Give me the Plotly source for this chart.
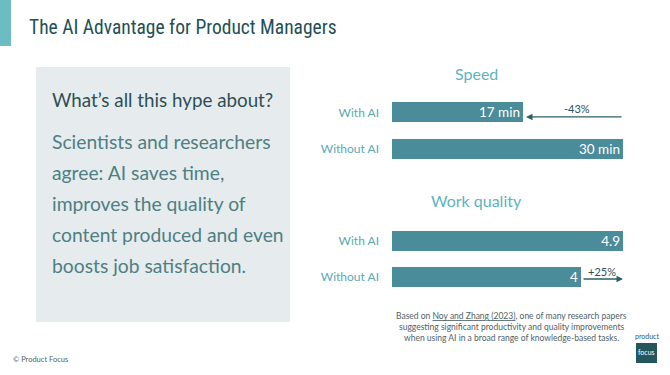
import plotly.graph_objects as go

W, H = 670, 375
FONT = "Lato"
COND = "Roboto Condensed"

# ---- data ----
categories = ["With AI", "Without AI"]
speed_minutes = [17, 30]
speed_labels = ["17 min", "30 min"]
quality_scores = [4.9, 4]
quality_labels = ["4.9", "4"]
change_labels = ["-43%", "+25%"]

BAR = "#4A8C9A"
TEAL = "#5DB3BC"
DARK = "#24535A"

def px(x):
    return x / W

def py(y):
    return 1 - y / H

fig = go.Figure()

fig.add_trace(go.Bar(
    x=speed_minutes, y=categories, orientation="h", width=0.56,
    marker=dict(color=BAR, line=dict(width=0)),
    text=speed_labels, textposition="inside", insidetextanchor="end",
    textangle=0, constraintext="none",
    textfont=dict(family=FONT, size=13.5, color="white"),
    xaxis="x", yaxis="y", hoverinfo="skip", cliponaxis=False))

fig.add_trace(go.Bar(
    x=quality_scores, y=categories, orientation="h", width=0.55,
    marker=dict(color=BAR, line=dict(width=0)),
    text=quality_labels, textposition="inside", insidetextanchor="end",
    textangle=0, constraintext="none",
    textfont=dict(family=FONT, size=13.5, color="white"),
    xaxis="x2", yaxis="y2", hoverinfo="skip", cliponaxis=False))

xcommon = dict(showticklabels=False, showgrid=True, griddash="dot",
               gridcolor="#C9DDE0", gridwidth=1, zeroline=False, showline=False,
               ticks="", fixedrange=True)
ycommon = dict(type="category", categoryorder="array", categoryarray=categories,
               autorange="reversed", showgrid=False, zeroline=False, showline=False,
               ticks="", ticklabelstandoff=12, fixedrange=True,
               tickfont=dict(family=FONT, size=12, color="#5AA9B1"))

fig.update_layout(
    width=W, height=H, margin=dict(l=0, r=0, t=0, b=0),
    paper_bgcolor="white", plot_bgcolor="rgba(0,0,0,0)",
    showlegend=False, bargap=0,
    xaxis=dict(domain=[px(392), px(623)], range=[0, max(speed_minutes)],
               tickvals=[0, max(speed_minutes)], anchor="y", **xcommon),
    yaxis=dict(domain=[py(167.25), py(94.25)], anchor="x", **ycommon),
    xaxis2=dict(domain=[px(392), px(623)], range=[0, max(quality_scores)],
                tickvals=[0, max(quality_scores)], anchor="y2", **xcommon),
    yaxis2=dict(domain=[py(294.5), py(222.5)], anchor="x2", **ycommon),
)

shapes = [
    dict(type="rect", xref="paper", yref="paper", x0=0, x1=px(11), y0=py(46), y1=1,
         fillcolor="#6BBCC3", line=dict(width=0), layer="below"),
    dict(type="rect", xref="paper", yref="paper", x0=px(36), x1=px(290), y0=py(322), y1=py(67),
         fillcolor="#E6ECED", line=dict(width=0), layer="below"),
    dict(type="rect", xref="paper", yref="paper", x0=px(636), x1=px(657), y0=py(363), y1=py(343),
         fillcolor="#24575C", line=dict(width=0)),
]
fig.update_layout(shapes=shapes)

ann = []
ann.append(dict(text="The AI Advantage for Product Managers", x=px(27), y=py(28),
                xref="paper", yref="paper", xanchor="left", yanchor="middle", showarrow=False,
                font=dict(family=COND, size=19.5, color="#234F56")))
ann.append(dict(text="What’s all this hype about?", x=px(50), y=py(99),
                xref="paper", yref="paper", xanchor="left", yanchor="middle", showarrow=False,
                font=dict(family=FONT, size=18.8, color="#2E4F55")))
body = ["Scientists and researchers", "agree: AI saves time,", "improves the quality of",
        "content produced and even", "boosts job satisfaction."]
for i, line in enumerate(body):
    ann.append(dict(text=line, x=px(50), y=py(141 + 31.2 * i),
                    xref="paper", yref="paper", xanchor="left", yanchor="middle", showarrow=False,
                    font=dict(family=FONT, size=19.3, color="#4F7E84")))

ann.append(dict(text="Speed", x=px(476), y=py(73), xref="paper", yref="paper",
                xanchor="center", yanchor="middle", showarrow=False,
                font=dict(family=FONT, size=16, color=TEAL)))
ann.append(dict(text="Work quality", x=px(476), y=py(200), xref="paper", yref="paper",
                xanchor="center", yanchor="middle", showarrow=False,
                font=dict(family=FONT, size=16, color=TEAL)))

# speed change arrow
ann.append(dict(x=speed_minutes[0] + 0.4, y=0.12, xref="x", yref="y",
                ax=speed_minutes[1], ay=0.12, axref="x", ayref="y",
                showarrow=True, arrowhead=2, arrowsize=1, arrowwidth=1.3, arrowcolor="#2E5F66",
                text=""))
ann.append(dict(text=change_labels[0], x=(speed_minutes[0] + speed_minutes[1]) / 2 + 0.5, y=-0.12,
                xref="x", yref="y", showarrow=False, xanchor="center", yanchor="middle",
                font=dict(family=FONT, size=11, color="#2E4F55")))
# quality change arrow
ann.append(dict(x=quality_scores[0], y=1.07, xref="x2", yref="y2",
                ax=quality_scores[1] + 0.03, ay=1.07, axref="x2", ayref="y2",
                showarrow=True, arrowhead=2, arrowsize=1, arrowwidth=1.3, arrowcolor="#2E5F66",
                text=""))
ann.append(dict(text=change_labels[1], x=(quality_scores[0] + quality_scores[1]) / 2, y=0.86,
                xref="x2", yref="y2", showarrow=False, xanchor="center", yanchor="middle",
                font=dict(family=FONT, size=11, color="#2E4F55")))

foot = ["Based on <u>Noy and Zhang (2023)</u>, one of many research papers",
        "suggesting significant productivity and quality improvements",
        "when using AI in a broad range of knowledge-based tasks."]
for i, line in enumerate(foot):
    ann.append(dict(text=line, x=px(511), y=py(316 + 11 * i), xref="paper", yref="paper",
                    xanchor="center", yanchor="middle", showarrow=False,
                    font=dict(family=FONT, size=8.5, color="#4F6268")))

ann.append(dict(text="product", x=px(646.5), y=py(336), xref="paper", yref="paper",
                xanchor="center", yanchor="middle", showarrow=False,
                font=dict(family=FONT, size=7, color="#2F5B60")))
ann.append(dict(text="focus", x=px(646.5), y=py(352), xref="paper", yref="paper",
                xanchor="center", yanchor="middle", showarrow=False,
                font=dict(family=FONT, size=7, color="white")))
ann.append(dict(text="© Product Focus", x=px(11), y=py(359), xref="paper", yref="paper",
                xanchor="left", yanchor="middle", showarrow=False,
                font=dict(family=FONT, size=7.5, color="#4F6268")))

fig.update_layout(annotations=ann)

fig.write_html("out.html", config={"displayModeBar": False},
               post_script="document.body.style.margin='0';")
